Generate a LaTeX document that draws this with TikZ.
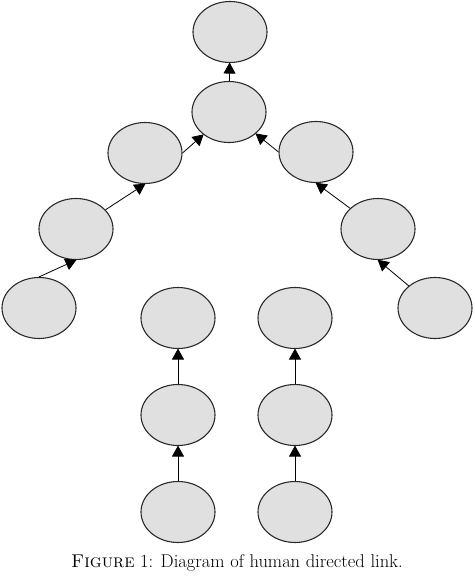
\documentclass[tikz,border=0pt]{standalone}
\usetikzlibrary{shapes.geometric,arrows.meta}
\definecolor{nodegray}{HTML}{E0E0E0}
\definecolor{rimgray}{HTML}{2A2A2A}
\begin{document}
\begin{tikzpicture}[
	x=1pt,
	y=-1pt,
	line join=round,
	>={Triangle[length=11pt,width=12pt]},
	human/.style={ellipse, draw=rimgray, line width=1.1pt, fill=nodegray,
		minimum width=74pt, minimum height=61pt, inner sep=0pt},
	link/.style={->, line width=0.8pt, black, shorten >=-0.5pt},
	]
\useasboundingbox (0,0) rectangle (474,577);
% the tree
\node[human] (top) at (230,32) {};
\node[human] (mid) at (229,112) {};
\node[human] (l1) at (145,153) {};
\node[human] (l2) at (76,229) {};
\node[human] (l3) at (39,308) {};
\node[human] (r1) at (316,152) {};
\node[human] (r2) at (378,229) {};
\node[human] (r3) at (435,308) {};
% the two chains
\node[human] (a1) at (178,318) {};
\node[human] (a2) at (178,415) {};
\node[human] (a3) at (178,512) {};
\node[human] (b1) at (295,318) {};
\node[human] (b2) at (295,415) {};
\node[human] (b3) at (295,512) {};
\draw[link] (mid) -- (top);
\draw[link] (l1.east) -- (mid);
\draw[link] (l2) -- (l1.south);
\draw[link] (l3.north) -- (l2.south);
\draw[link] (r1.west) -- (mid);
\draw[link] (r2) -- (r1.south);
\draw[link] (r3) -- (r2.south);
\foreach \c in {a, b}
	{
	\draw[link] (\c2) -- (\c1);
	\draw[link] (\c3) -- (\c2);
	}
\node[font=\fontsize{18.5}{21}\selectfont] (caption) at (237,563)
	{\textsc{Figure} 1: Diagram of human directed link.};
\end{tikzpicture}
\end{document}
